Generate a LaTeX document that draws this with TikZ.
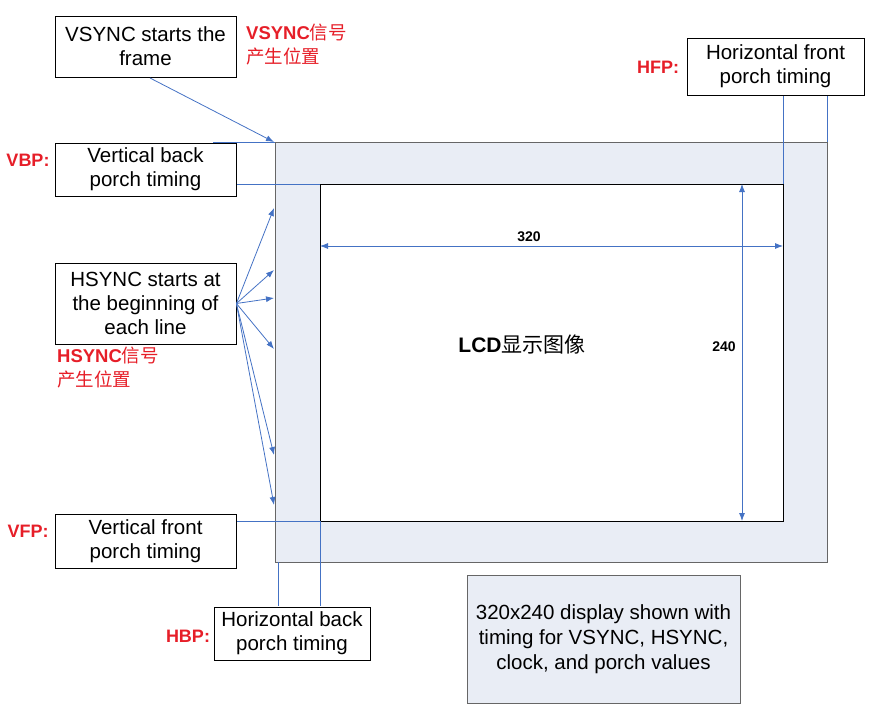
\documentclass[tikz,border=0pt]{standalone}
\usepackage{fontspec}
\setmainfont{Liberation Sans}
\newfontfamily\cjk{Noto Sans CJK SC}
\usetikzlibrary{arrows.meta}
\definecolor{lb}{RGB}{68,114,196}
\definecolor{fillb}{RGB}{233,237,245}
\definecolor{rd}{RGB}{230,30,40}
\begin{document}
\begin{tikzpicture}[x=1pt,y=-1pt,
  box/.style={draw=black,thick,fill=white,align=center,font=\fontsize{20.5}{24}\selectfont,inner sep=0},
  lab/.style={text=rd,font=\bfseries\fontsize{18}{20}\selectfont},
  cn/.style={text=rd,font=\fontsize{18.5}{24}\selectfont,align=left,inner sep=0},
  bl/.style={draw=lb,line width=0.8pt},
  ar/.style={bl,-{Latex[length=8pt,width=6pt]}}]
\useasboundingbox (0,0) rectangle (878,709);
\fill[fillb] (275,142) rectangle (827,562);
\draw[gray!80!black,thick] (275,142) rectangle (827,562);
\draw[black,fill=white] (320,184) rectangle (783,521);
% guide lines
\draw[bl] (213,142) -- (275,142);
\draw[bl] (213,184) -- (320,184);
\draw[bl] (213,521) -- (320,521);
\draw[bl] (278,562) -- (278,606);
\draw[bl] (320,521) -- (320,606);
\draw[bl] (783,96) -- (783,184);
\draw[bl] (827,96) -- (827,142);
% boxes
\node[box,minimum width=181,minimum height=61] (vs) at (145.5,46.5) {VSYNC starts the\\frame};
\node[box,minimum width=181,minimum height=53] (vbp) at (145.5,169.5) {Vertical back\\porch timing};
\node[box,minimum width=181,minimum height=81] (hs) at (145.5,303.5) {HSYNC starts at\\the beginning of\\each line};
\node[box,minimum width=181,minimum height=54] (vfp) at (145.5,541) {Vertical front\\porch timing};
\node[box,minimum width=156,minimum height=53] (hbp) at (292,633.5) {Horizontal back\\porch timing};
\node[box,minimum width=177,minimum height=57] (hfp) at (775.5,66.5) {Horizontal front\\porch timing};
\node[box,fill=fillb,draw=gray!80!black,minimum width=273,minimum height=128,font=\fontsize{20.5}{25}\selectfont] (cap) at (603.5,639) {320x240 display shown with\\timing for VSYNC, HSYNC,\\clock, and porch values};
% red labels
\node[lab] (l1) at (28,160) {VBP:};
\node[lab] (l2) at (28,531) {VFP:};
\node[lab] (l3) at (188,636) {HBP:};
\node[lab] (l4) at (658,67) {HFP:};
\node[cn,anchor=north west] (c1) at (246,24) {\textbf{VSYNC}{\cjk 信号}\\{\cjk 产生位置}};
\node[cn,anchor=north west] (c2) at (57,347) {\textbf{HSYNC}{\cjk 信号}\\{\cjk 产生位置}};
% arrows
\coordinate (t0) at (274,142);
\draw[ar] (150,78) -- (t0);
\foreach \y [count=\i] in {208,270,298,349,455,505} {
  \coordinate (h\i) at (274,\y);
  \draw[ar] (hs.east) -- (h\i);
}
% dimensions
\coordinate (d1) at (320,246); \coordinate (d2) at (783,246);
\draw[bl,{Latex[length=8pt,width=6pt]}-{Latex[length=8pt,width=6pt]}] (d1) -- (d2);
\coordinate (e1) at (742,184); \coordinate (e2) at (742,521);
\draw[bl,{Latex[length=8pt,width=6pt]}-{Latex[length=8pt,width=6pt]}] (e1) -- (e2);
\node[font=\bfseries\fontsize{14}{16}\selectfont] (n320) at (529,237) {320};
\node[font=\bfseries\fontsize{14}{16}\selectfont] (n240) at (724,347) {240};
\node[font=\fontsize{21}{24}\selectfont] (lcd) at (522,345) {\textbf{LCD}{\cjk 显示图像}};
\end{tikzpicture}
\end{document}
